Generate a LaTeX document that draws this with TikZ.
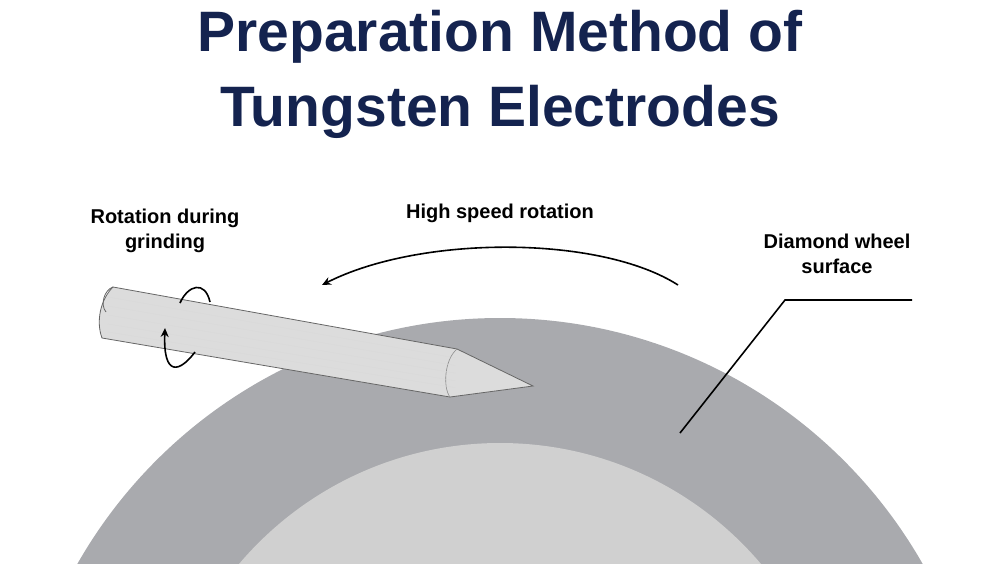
\documentclass[tikz,border=0pt]{standalone}
\usepackage{fontspec}
\setmainfont{Liberation Sans}
\begin{document}
\begin{tikzpicture}[x=1pt,y=-1pt,
  lbl/.style={font=\bfseries\fontsize{20}{25}\selectfont,align=center},
  ttl/.style={font=\bfseries\fontsize{57}{75}\selectfont,text=navy,align=center},
  arr/.style={line width=1.6pt,-{Stealth[length=9pt,width=8pt]}}]
\usetikzlibrary{arrows.meta}
\definecolor{navy}{HTML}{14234F}
\definecolor{outerg}{HTML}{A9AAAE}
\definecolor{innerg}{HTML}{D0D0D0}
\definecolor{rod}{HTML}{DCDCDC}
\useasboundingbox (0,0) rectangle (1000,563);
\begin{scope}
\clip (0,0) rectangle (1000,563);
\fill[outerg] (500,804) circle (486);
\fill[innerg] (500,785) circle (342);
\end{scope}
\node[ttl] (t) at (500,74) {Preparation Method of\\Tungsten Electrodes};
% electrode
\path[fill=rod,draw=black!60,line width=0.8pt]
  (113,287) -- (457,349) -- (533,386) -- (450,397) -- (102,338)
  .. controls (96,322) and (100,300) .. (113,287) -- cycle;
\draw[black!45,line width=0.6pt] (457,349) .. controls (444,360) and (443,388) .. (450,397);
\draw[black!60,line width=0.8pt] (113,287) .. controls (104,290) and (100,305) .. (106,312);
\foreach \d in {8,17,26,35,43}{
  \draw[black!15,line width=0.3pt] (108,289+\d) -- (455,351+\d*0.85);}
% rotation arrow
\draw[line width=1.6pt] (180,303) .. controls (188,285) and (205,280) .. (210,302);
\draw[arr] (195,352) .. controls (180,372) and (163,378) .. (165,328);
% high speed arc
\coordinate (hs1) at (678,285);
\coordinate (hs2) at (322,285);
\draw[arr] (hs1) .. controls (600,235) and (420,235) .. (hs2);
% leader
\coordinate (l1) at (680,433);
\coordinate (l2) at (785,300);
\coordinate (l3) at (912,300);
\draw[line width=1.6pt] (l1) -- (l2) -- (l3);
\node[lbl] (r) at (165,231) {Rotation during\\grinding};
\node[lbl] (h) at (500,213) {High speed rotation};
\node[lbl] (d) at (837,254) {Diamond wheel\\surface};
\end{tikzpicture}
\end{document}
